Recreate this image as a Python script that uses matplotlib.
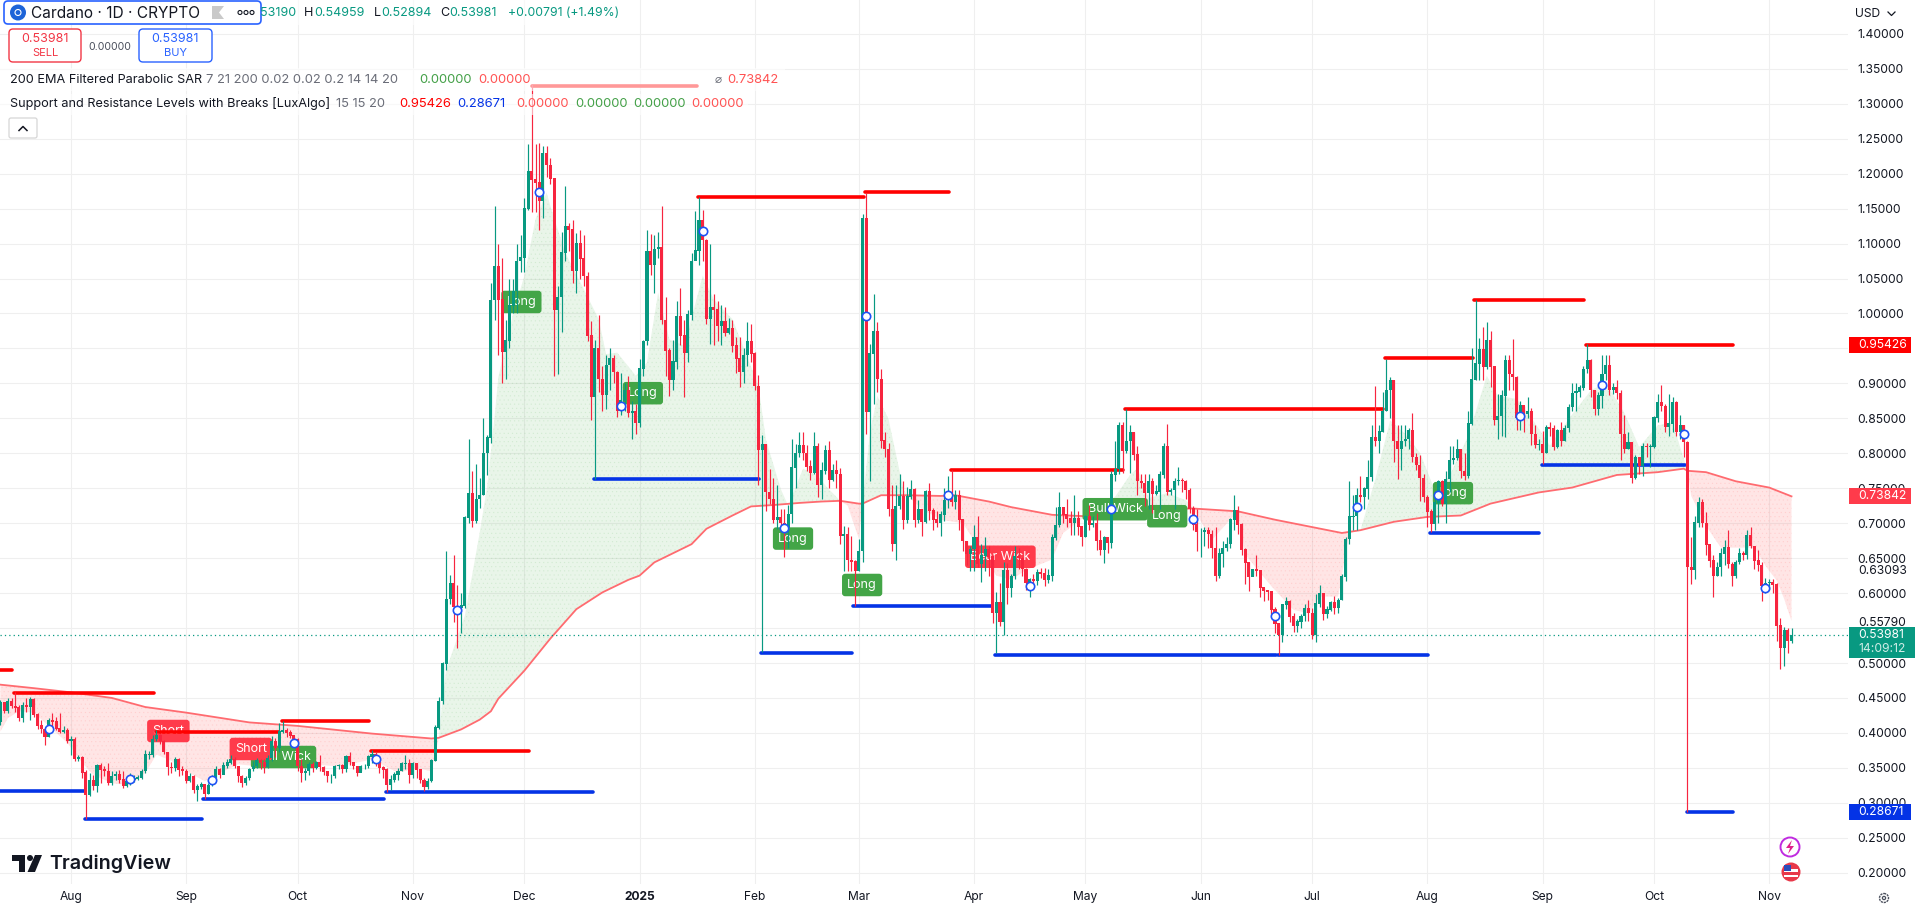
import numpy as np
import matplotlib
matplotlib.use("Agg")
import matplotlib.pyplot as plt
from matplotlib.patches import FancyBboxPatch, Circle, Polygon, Rectangle

plt.rcParams['font.family'] = ['Inter', 'DejaVu Sans']
plt.rcParams['hatch.linewidth'] = 0.4

# ---------------- data --------------------------------------
# bar number = days since 1 Aug 2024, first bar is day -19, last is day 463
first_day = -19
first_open = 0.416

closes = [
    # Jul 2024
    .443, .431, .445, .438, .436, .422, .439, .437, .448, .426, .410, .405, .394, .418, .416, .406, .402, .404, .388,
    # Aug
    .391, .362, .365, .343, .311, .332, .324, .353, .347, .345, .328, .338, .340, .333, .324, .330, .333, .334, .336, .345, .369, .369, .391, .396, .388, .372, .351, .350, .362, .347, .345,
    # Sep
    .331, .338, .318, .323, .326, .313, .325, .333, .347, .340, .353, .357, .362, .352, .338, .329, .335, .348, .352, .360, .357, .351, .364, .388, .379, .402, .404, .400, .396, .390,
    # Oct
    .352, .343, .345, .355, .350, .358, .351, .344, .338, .338, .352, .353, .348, .366, .358, .352, .343, .352, .352, .366, .369, .363, .350, .347, .325, .333, .340, .345, .356, .356, .340,
    # Nov
    .356, .347, .332, .323, .331, .360, .407, .445, .499, .591, .614, .580, .578, .582, .708, .743, .703, .734, .740, .800, .822, 1.019, 1.067, 1.020, .945, .961, 1.011, 1.032, 1.075, 1.080,
    # Dec
    1.150, 1.203, 1.191, 1.187, 1.161, 1.229, 1.212, 1.193, 1.005, 1.023, 1.087, 1.124, 1.120, 1.061, 1.100, 1.078, 1.053, .968, .881, .950, .906, .883, .926, .936, .916, .861, .875, .890, .858, .859, .843,
    # Jan 2025
    .921, .960, 1.089, 1.070, 1.092, 1.094, .990, .947, .905, .931, .996, .968, .944, .998, 1.075, 1.090, 1.133, 1.105, .992, 1.009, 1.005, .982, .988, .972, .978, .954, .935, .9165, .940, .960, .942,
    # Feb
    .896, .805, .813, .744, .734, .704, .708, .700, .693, .713, .779, .800, .811, .800, .781, .772, .810, .755, .775, .804, .762, .775, .770, .682, .684, .647, .645, .632,
    # Mar
    .660, 1.136, .859, .942, .974, .906, .818, .806, .720, .670, .724, .738, .704, .738, .748, .705, .719, .702, .745, .718, .705, .701, .712, .733, .740, .730, .740, .705, .674, .656, .663,
    # Apr
    .679, .641, .653, .662, .652, .571, .586, .558, .632, .607, .624, .652, .650, .634, .614, .619, .617, .629, .628, .619, .625, .679, .697, .723, .712, .706, .701, .706, .695, .680,
    # May
    .709, .698, .700, .675, .661, .680, .671, .769, .777, .840, .804, .817, .830, .798, .760, .757, .743, .760, .742, .745, .769, .810, .745, .747, .760, .761, .760, .747, .721, .698, .687,
    # Jun
    .687, .690, .684, .664, .625, .656, .664, .670, .705, .718, .698, .662, .643, .623, .633, .632, .608, .603, .602, .576, .556, .540, .583, .588, .566, .553, .559, .567, .578, .571,
    # Jul
    .540, .585, .600, .570, .576, .586, .579, .590, .623, .677, .709, .710, .739, .737, .749, .766, .823, .817, .831, .860, .890, .904, .817, .806, .817, .820, .833, .794, .783, .764, .737,
    # Aug
    .716, .699, .729, .760, .728, .763, .790, .793, .805, .774, .768, .842, .905, .928, .948, .923, .962, .924, .847, .853, .882, .932, .913, .909, .851, .868, .856, .859, .827, .812, .813,
    # Sep
    .801, .837, .835, .809, .832, .818, .836, .866, .886, .888, .894, .920, .932, .890, .863, .882, .913, .926, .891, .894, .886, .827, .806, .816, .764, .794, .782, .810, .809, .809,
    # Oct / Nov
    .851, .872, .867, .837, .842, .873, .831, .840, .816, .637, .633, .701, .730, .700, .669, .646, .625, .637, .656, .665, .641, .625, .644, .657, .654, .683, .667, .646, .640, .610, .614, .615, .612, .553, .521, .547, .5319, .53981,
]

highs = [
    .447, .444, .450, .450, .458, .440, .444, .450, .452, .450, .429, .419, .405, .421, .429, .423, .429, .410, .407,
    .395, .394, .369, .367, .347, .342, .340, .356, .357, .352, .357, .345, .346, .347, .345, .336, .342, .340, .340, .349, .376, .374, .397, .404, .398, .390, .372, .358, .366, .364, .352,
    .348, .343, .340, .327, .330, .325, .328, .340, .352, .350, .358, .362, .368, .365, .352, .340, .338, .350, .360, .364, .362, .362, .368, .395, .392, .414, .417, .407, .404, .396,
    .392, .362, .350, .358, .358, .360, .368, .353, .345, .341, .354, .356, .355, .368, .372, .358, .348, .354, .356, .368, .376, .372, .356, .352, .350, .340, .344, .350, .358, .368, .362,
    .358, .357, .340, .335, .336, .362, .412, .452, .502, .660, .626, .655, .611, .600, .710, .820, .774, .784, .765, .850, .826, 1.044, 1.154, 1.099, 1.079, .990, 1.049, 1.049, 1.100, 1.112,
    1.165, 1.243, 1.328, 1.243, 1.244, 1.239, 1.240, 1.222, 1.193, 1.039, 1.116, 1.183, 1.130, 1.134, 1.115, 1.120, 1.112, 1.060, .989, .962, .998, .925, .941, .950, .940, .918, .915, .900, .911, .875, .870,
    .935, .962, 1.119, 1.114, 1.112, 1.116, 1.154, 1.024, .950, .962, 1.018, 1.037, .990, 1.005, 1.087, 1.146, 1.167, 1.148, 1.106, 1.100, 1.028, 1.018, 1.012, 1.010, .993, .990, .967, .967, .950, .988, .985,
    .945, .912, .826, .813, .778, .765, .755, .720, .720, .726, .821, .813, .831, .830, .812, .790, .830, .815, .787, .812, .817, .785, .790, .779, .696, .695, .682, .647,
    .678, 1.143, 1.172, .956, 1.028, .988, .920, .830, .815, .755, .755, .770, .760, .752, .762, .750, .733, .720, .748, .757, .722, .718, .718, .750, .768, .776, .748, .747, .706, .675, .668,
    .697, .710, .670, .680, .668, .655, .601, .615, .645, .643, .628, .668, .665, .652, .636, .622, .628, .635, .636, .636, .635, .684, .723, .744, .723, .734, .718, .740, .718, .690,
    .712, .726, .710, .714, .690, .682, .675, .775, .817, .845, .845, .863, .840, .830, .810, .770, .770, .770, .764, .755, .775, .815, .842, .750, .765, .780, .765, .762, .750, .725, .720,
    .693, .695, .695, .690, .695, .665, .675, .680, .708, .740, .724, .700, .665, .645, .635, .655, .618, .607, .604, .598, .580, .556, .585, .595, .590, .572, .563, .570, .585, .590,
    .578, .599, .612, .600, .582, .588, .596, .593, .628, .680, .760, .740, .750, .768, .752, .790, .840, .896, .840, .888, .935, .909, .905, .840, .840, .840, .836, .857, .800, .797, .770,
    .740, .720, .740, .762, .762, .775, .810, .810, .820, .805, .800, .860, .950, 1.020, .965, .980, .988, .975, .920, .885, .890, .940, .940, .963, .910, .875, .868, .881, .865, .840, .820,
    .832, .840, .845, .840, .835, .845, .840, .870, .900, .900, .898, .925, .956, .935, .890, .887, .940, .940, .940, .900, .905, .890, .855, .830, .816, .797, .790, .815, .815, .814,
    .853, .885, .898, .870, .885, .880, .875, .855, .840, .818, .680, .710, .737, .735, .716, .660, .655, .645, .665, .676, .690, .645, .648, .665, .660, .690, .695, .663, .662, .645, .621, .620, .620, .615, .565, .551, .550, .54959,
]

lows = [
    .412, .428, .428, .435, .430, .417, .415, .430, .418, .423, .405, .400, .382, .394, .410, .404, .400, .400, .386,
    .369, .360, .360, .335, .277, .310, .318, .316, .329, .338, .326, .325, .333, .328, .321, .322, .326, .330, .332, .334, .343, .362, .366, .388, .384, .370, .340, .342, .345, .338, .340,
    .328, .330, .314, .303, .320, .305, .312, .324, .332, .336, .345, .350, .355, .350, .330, .322, .326, .332, .345, .350, .348, .342, .350, .360, .365, .372, .400, .394, .392, .384,
    .345, .330, .332, .340, .344, .349, .345, .340, .330, .328, .336, .348, .342, .344, .354, .348, .338, .345, .348, .350, .357, .352, .342, .335, .316, .318, .330, .332, .345, .348, .328,
    .336, .335, .328, .317, .320, .330, .360, .405, .442, .490, .585, .558, .522, .543, .578, .700, .694, .700, .722, .740, .769, .815, .990, .940, .900, .906, .950, 1.000, 1.000, 1.060,
    1.060, 1.148, 1.145, 1.145, 1.120, 1.137, 1.195, 1.185, .911, .913, .974, 1.075, 1.090, 1.044, 1.030, 1.050, 1.040, .960, .848, .763, .888, .860, .863, .891, .900, .852, .855, .860, .852, .820, .828,
    .838, .910, .955, 1.055, 1.030, 1.080, .985, .910, .882, .890, .920, .955, .880, .930, .990, 1.085, 1.070, 1.075, .985, .957, .955, .960, .955, .968, .970, .945, .915, .895, .900, .925, .930,
    .890, .754, .516, .718, .728, .700, .692, .690, .652, .665, .700, .750, .795, .790, .775, .762, .770, .738, .735, .770, .750, .760, .750, .670, .632, .632, .632, .582,
    .632, .645, .827, .760, .870, .888, .808, .795, .710, .660, .648, .720, .692, .700, .735, .695, .700, .682, .700, .705, .690, .695, .682, .703, .722, .725, .720, .690, .660, .640, .632,
    .631, .638, .616, .632, .625, .557, .515, .553, .540, .585, .595, .620, .635, .625, .605, .595, .610, .612, .622, .610, .615, .618, .676, .695, .700, .695, .683, .683, .683, .667,
    .680, .690, .695, .661, .655, .643, .658, .665, .760, .770, .772, .800, .772, .790, .740, .750, .725, .720, .715, .740, .720, .765, .740, .740, .720, .755, .745, .735, .715, .690, .660,
    .652, .668, .665, .650, .618, .622, .637, .660, .665, .690, .685, .655, .613, .603, .625, .625, .595, .588, .590, .570, .543, .512, .530, .577, .558, .545, .545, .550, .560, .560,
    .535, .530, .580, .562, .565, .574, .570, .572, .590, .618, .670, .690, .690, .730, .720, .735, .760, .810, .800, .830, .860, .850, .788, .763, .776, .810, .806, .787, .776, .732, .730,
    .695, .687, .690, .700, .725, .700, .745, .785, .790, .765, .762, .765, .840, .905, .905, .905, .920, .895, .840, .820, .825, .824, .890, .890, .833, .833, .830, .850, .812, .807, .805,
    .785, .800, .825, .805, .807, .810, .818, .830, .860, .860, .880, .890, .915, .880, .855, .855, .865, .905, .884, .885, .878, .790, .800, .806, .757, .763, .770, .767, .795, .780,
    .807, .845, .860, .830, .825, .830, .825, .820, .794, .28671, .613, .620, .695, .695, .655, .637, .595, .625, .625, .640, .636, .610, .622, .642, .648, .649, .665, .635, .632, .589, .600, .605, .600, .532, .492, .496, .515, .52894,
]

# 200 ema, read at these days
ema_days = [-19, -10, 0, 11, 20, 31, 48, 61, 81, 97, 99, 105, 110, 113, 115, 122, 129, 136, 143, 150, 153, 157, 167, 171, 178, 183, 189, 196, 202, 207, 212, 213, 218, 225, 234, 238, 247, 253, 264, 273, 277, 289, 302, 314, 324, 342, 347, 356, 365, 374, 382, 395, 404, 416, 427, 434, 435, 440, 448, 457, 463]
ema_vals = [.469, .464, .458, .450, .437, .429, .415, .410, .399, .392, .393, .405, .419, .431, .449, .489, .535, .577, .601, .619, .625, .644, .670, .692, .711, .724, .726, .729, .731, .732, .728, .728, .740, .740, .739, .740, .731, .723, .712, .710, .710, .720, .721, .717, .705, .686, .690, .702, .709, .711, .728, .744, .751, .769, .773, .778, .775, .773, .760, .751, .73842]

# other edge of the shaded band
band_days = [-19, -17, -14, -10, -1, 3, 6, 11, 16, 20, 23, 27, 31, 36, 39, 45, 51, 56, 59, 65, 72, 81, 88, 93, 97, 99, 100, 101, 102, 106, 110, 112, 114, 115, 119, 122, 125, 128, 129, 133, 138, 142, 144, 147, 152, 155, 158, 161, 165, 170, 173, 178, 185, 187, 191, 193, 197, 201, 203, 207, 209, 212, 213, 215, 217, 220, 224, 225, 229, 234, 240, 244, 249, 253, 257, 264, 267, 273, 281, 285, 287, 290, 295, 300, 302, 307, 314, 316, 323, 329, 333, 336, 341, 344, 347, 351, 355, 359, 363, 367, 371, 376, 381, 384, 389, 393, 398, 403, 409, 413, 418, 422, 427, 431, 435, 436, 440, 444, 453, 456, 459, 461, 463]
band_vals = [.402, .421, .431, .429, .386, .357, .340, .328, .325, .343, .369, .360, .345, .331, .340, .355, .352, .374, .381, .355, .352, .362, .343, .350, .345, .393, .451, .491, .506, .568, .687, .753, .853, .909, 1.000, 1.054, 1.135, 1.173, 1.154, 1.087, 1.035, .992, .942, .944, .911, .930, 1.030, .963, .954, 1.054, 1.020, .992, .897, .820, .749, .725, .778, .768, .754, .732, .725, .678, .728, .830, .882, .849, .749, .740, .720, .705, .700, .667, .625, .619, .633, .648, .686, .710, .738, .769, .779, .736, .743, .733, .721, .676, .717, .655, .610, .576, .571, .595, .595, .686, .690, .763, .847, .828, .801, .747, .768, .825, .911, .882, .878, .851, .811, .849, .890, .901, .858, .809, .840, .844, .775, .739, .696, .665, .665, .639, .618, .592, .560]

# start day, end day, 1 = green 0 = red
band_parts = [(-19, 99, 0), (99, 207, 1), (207, 213, 0), (213, 225, 1), (225, 273, 0), (273, 302, 1), (302, 347, 0), (347, 435, 1), (435, 463, 0)]

# support / resistance lines: start day, end day, price
res_lines = [(-20, -16, .490), (-15.3, 22.4, .457), (23, 56, .402), (56.7, 80.3, .4167), (80.7, 123.2, .374), (124, 168.4, 1.326), (168.6, 213.4, 1.167), (213.7, 236.4, 1.174), (236.7, 283.2, .776), (283.7, 353, .864), (353.6, 377.2, .936), (377.6, 407.2, 1.020), (407.6, 447.2, .95426)]
sup_lines = [(-20, 3.4, .3175), (3.8, 35.3, .2771), (35.6, 84.3, .3048), (84.7, 140.4, .3157), (140.8, 185.2, .763), (185.7, 210.2, .515), (210.5, 247.7, .581), (248.6, 324.3, .5119), (324.7, 365.2, .511), (365.7, 395.1, .686), (395.8, 434.4, .7838), (434.9, 447.2, .28671)]

# blue circles
sar_days = [-6, 16, 38, 60, 82, 104, 126, 148, 170, 192, 214, 236, 258, 280, 302, 324, 346, 368, 390, 412, 434, 456]
sar_vals = [.405, .334, .333, .386, .363, .576, 1.174, .868, 1.118, .693, .997, .740, .610, .720, .706, .567, .723, .740, .853, .898, .828, .607]

# signal labels: day, price, text, green or red (later ones lie on top)
signals = [(57.2, .3655, "Bull Wick", "g"), (26.2, .4027, "Short", "r"), (48.4, .377, "Short", "r"), (121.2, 1.0165, "Long", "g"), (153.9, .886, "Long", "g"), (194.3, .678, "Long", "g"), (212.9, .6116, "Long", "g"), (250.1, .652, "Bear Wick", "r"), (281, .720, "Bull Wick", "g"), (295, .710, "Long", "g"), (371.9, .743, "Long", "g")]

month_days = [0, 31, 61, 92, 122, 153, 184, 212, 243, 273, 304, 334, 365, 396, 426, 457]
month_names = ["Aug", "Sep", "Oct", "Nov", "Dec", "2025", "Feb", "Mar", "Apr", "May", "Jun", "Jul", "Aug", "Sep", "Oct", "Nov"]
price_ticks = [round(.2 + .05 * i, 2) for i in range(25)]
hidden_labels = [.55, .95]  # these two sit under the price tags

assert len(closes) == len(highs) == len(lows), (len(closes), len(highs), len(lows))
assert len(closes) == 483, len(closes)
assert len(ema_days) == len(ema_vals), (len(ema_days), len(ema_vals))
assert len(band_days) == len(band_vals), (len(band_days), len(band_vals))

GREEN = "#089981"
RED = "#F7253F"
INK = "#131722"
BLUE = "#2962FF"

# ---------------- main chart -----------------
fig = plt.figure(figsize=(19.2, 9.13), dpi=100)
ax = fig.add_axes([0, 1 - 884 / 913, 1848 / 1920, 884 / 913])
ax.set_xlim((0 - 71) / 3.716, (1848 - 71) / 3.716)
ax.set_ylim(.5 - 221 / 699, .5 + 663 / 699)

days = np.arange(len(closes)) + first_day
closes = np.array(closes)
opens = np.r_[first_open, closes[:-1]]
highs = np.array(highs)
lows = np.array(lows)
up = closes >= opens
colors = np.where(up, GREEN, RED)

# shaded band between ema and the smoothed price
ema_d = np.array(ema_days)
ema_v = np.array(ema_vals)
band_d = np.array(band_days)
band_v = np.array(band_vals)
for start, end, is_green in band_parts:
    a = (ema_d >= start) & (ema_d <= end)
    b = (band_d >= start) & (band_d <= end)
    xs = np.r_[ema_d[a], band_d[b][::-1]]
    ys = np.r_[ema_v[a], band_v[b][::-1]]
    if is_green:
        ax.fill(xs, ys, facecolor=(.30, .69, .31, .12), edgecolor=(.30, .69, .31, .10), hatch="....", linewidth=0, zorder=1)
    else:
        ax.fill(xs, ys, facecolor=(1, .32, .32, .15), edgecolor=(1, .32, .32, .10), hatch="....", linewidth=0, zorder=1)

ax.plot(ema_d, ema_v, color="#FF6B70", lw=1.3, zorder=2)

for d, p, txt, col in signals:
    fc = "#43A547" if col == "g" else "#FF3B4B"
    ax.text(d, p, txt, color="white", fontsize=9.0, ha="center", va="center", zorder=2.5,
            bbox=dict(boxstyle="round,pad=0.42,rounding_size=0.25", fc=fc, ec="none"))

for x1, x2, p in res_lines:
    ax.plot([x1, x2], [p, p], color="#FF0000", lw=2.6, solid_capstyle="round", zorder=3)
for x1, x2, p in sup_lines:
    ax.plot([x1, x2], [p, p], color="#0433E6", lw=2.6, solid_capstyle="round", zorder=3)

# candles
ax.vlines(days, lows, highs, colors=colors, lw=0.85, zorder=4)
ax.bar(days, np.abs(closes - opens) + .0008, bottom=np.minimum(opens, closes), width=0.82, color=colors, linewidth=0, zorder=4)

ax.plot(sar_days, sar_vals, "o", ms=6.0, mfc="white", mec="#1E53F5", mew=1.2, zorder=5)
ax.axhline(closes[-1], color=GREEN, lw=0.9, ls=(0, (1, 2.5)), zorder=3)

ax.set_xticks(month_days)
ax.set_xticklabels(month_names)
ax.set_yticks(price_ticks)
ax.set_yticklabels(["" if v in hidden_labels else "%.5f" % v for v in price_ticks])
ax.yaxis.tick_right()
ax.tick_params(axis="both", length=0, labelsize=8.7, labelcolor=INK)
ax.tick_params(axis="y", pad=7)
ax.tick_params(axis="x", pad=5)
ax.get_xticklabels()[5].set_fontweight("bold")
ax.grid(True, color="#EFEFEF", lw=0.75)
ax.set_axisbelow(True)
for s in ax.spines.values():
    s.set_visible(False)

# ---------------- overlay in screen pixels for the tradingview chrome -----------------
ov = fig.add_axes([0, 0, 1, 1], zorder=5)
ov.set_xlim(0, 1920)
ov.set_ylim(913, 0)
ov.axis("off")
ov.patch.set_alpha(0)


def price_y(p):
    return 913 - ax.transData.transform((0, p))[1]


def t(x, y, s, color=INK, size=9.3, ha="left", **kw):
    ov.text(x, y, s, color=color, fontsize=size, ha=ha, va="center", **kw)


def rbox(x1, y1, x2, y2, fc, ec="none", lw=1.0, r=3):
    ov.add_patch(FancyBboxPatch((x1 + r, y1 + r), x2 - x1 - 2 * r, y2 - y1 - 2 * r,
                                boxstyle="round,pad=%d,rounding_size=%d" % (r, r), fc=fc, ec=ec, lw=lw))


# white veil behind the legend rows
for x1, y1, x2, y2 in [(0, 0, 640, 25), (0, 68, 785, 91), (0, 94, 748, 115)]:
    ov.add_patch(Rectangle((x1, y1), x2 - x1, y2 - y1, fc=(1, 1, 1, .6), ec="none"))

# header row
TEAL = "#089981"
t(260, 13, "53190", TEAL, size=9)
t(303.5, 13, "H", size=9)
t(314, 13, "0.54959", TEAL, size=9)
t(374, 13, "L", size=9)
t(381, 13, "0.52894", TEAL, size=9)
t(440, 13, "C", size=9)
t(449, 13, "0.53981", TEAL, size=9)
t(508, 13, "+0.00791 (+1.49%)", TEAL, size=8.8)
rbox(4, 1, 261, 24, "white", ec=BLUE, lw=1.2, r=4)
ov.add_patch(Circle((18, 12.5), 8, fc="#1E64D8", ec="none"))
ov.add_patch(Circle((18, 12.5), 3, fc="none", ec="white", lw=0.8))
t(31, 13, "Cardano · 1D · CRYPTO", size=11.1)
ov.add_patch(Polygon([(212, 6), (224, 6), (219, 12.5), (224, 19), (212, 19)], fc="#C9C9C9", ec="none"))
for cx in (240, 246, 252):
    ov.add_patch(Circle((cx, 12.5), 2, fc="none", ec=INK, lw=0.8))

# sell / buy
rbox(9, 29, 81, 62, "white", ec="#F23645", lw=1.0, r=4)
t(45, 39, "0.53981", "#F23645", size=9, ha="center")
t(45, 53, "SELL", "#F23645", size=8.0, ha="center")
t(110, 47, "0.00000", "#4A4F5C", size=7.6, ha="center")
rbox(139, 29, 212, 62, "white", ec=BLUE, lw=1.0, r=4)
t(175.5, 39, "0.53981", BLUE, size=9, ha="center")
t(175.5, 53, "BUY", BLUE, size=8.0, ha="center")

# indicator rows
GREY = "#6A6D78"
LEG_G = "#43A047"
LEG_R = "#FF5252"
t(10, 80, "200 EMA Filtered Parabolic SAR", size=9.15)
t(205.5, 80, "7 21 200 0.02 0.02 0.2 14 14 20", GREY)
t(419, 80, "0.00000", LEG_G)
t(478, 80, "0.00000", LEG_R)
t(715, 80, "⌀", GREY, size=8.5)
t(727, 80, "0.73842", LEG_R)
t(10, 104, "Support and Resistance Levels with Breaks [LuxAlgo]", size=9.15)
t(335.5, 104, "15 15 20", GREY)
t(399, 104, "0.95426", "#FF0000")
t(457.5, 104, "0.28671", "#0433E6")
t(516, 104, "0.00000", LEG_R)
t(575, 104, "0.00000", LEG_G)
t(633.5, 104, "0.00000", LEG_G)
t(691, 104, "0.00000", LEG_R)
rbox(9, 118, 37, 138, "white", ec="#D6D6D6", lw=0.9, r=2)
ov.plot([19, 23, 27], [130.5, 126.5, 130.5], color=INK, lw=1.1)

# extra price labels and tags on the scale
t(1858, price_y(.63093), "0.63093", size=8.7)
t(1858, price_y(.5579), "0.55790", size=8.7)
t(1855, 14, "USD", size=8.7)
ov.plot([1888, 1891.5, 1895], [12, 15.5, 12], color=INK, lw=0.9)


def tag(p, txt, color):
    y = price_y(p)
    ov.add_patch(Rectangle((1849, y - 8), 62, 16, fc=color, ec="none"))
    t(1858, y, txt, "white", size=8.7)


tag(.95426, "0.95426", "#FF0000")
tag(.73842, "0.73842", "#FF3B4B")
tag(.28671, "0.28671", "#0433E6")
ov.add_patch(Rectangle((1849, 627), 66, 31, fc=GREEN, ec="none"))
t(1858, 635.5, "0.53981", "white", size=8.7)
t(1858, 649.5, "14:09:12", "#CFEDE7", size=8.7)

# tradingview logo
ov.add_patch(Polygon([(12, 855), (25, 855), (25, 872), (19, 872), (19, 861), (12, 861)], fc=INK, ec="none"))
ov.add_patch(Circle((30, 858), 3, fc=INK, ec="none"))
ov.add_patch(Polygon([(35, 855), (42, 855), (35, 872), (27.5, 872)], fc=INK, ec="none"))
t(49, 864, "TradingView", size=14.2, weight=600)

# corner badges
ov.add_patch(Circle((1790, 847), 9.5, fc="white", ec="#C02BE0", lw=1.4))
ov.add_patch(Polygon([(1792, 840), (1786, 848), (1790, 848), (1788, 854), (1794, 846), (1790, 846)], fc="#E0218A", ec="none"))
ov.add_patch(Circle((1791, 872), 9.5, fc="#E8394A", ec="none"))
ov.add_patch(Rectangle((1784, 869), 14, 3, fc="white", ec="none"))
ov.add_patch(Rectangle((1784, 875), 14, 2, fc="white", ec="none"))
ov.add_patch(Rectangle((1784, 865), 7, 6, fc="#2B4BB8", ec="none"))
ov.add_patch(Circle((1884, 898), 4.5, fc="white", ec="#4A4F5C", lw=1.0, ls=(0, (1.6, 0.6))))
ov.add_patch(Circle((1884, 898), 1.6, fc="white", ec="#4A4F5C", lw=0.9))

fig.savefig("out.png", dpi=100, facecolor="white")
